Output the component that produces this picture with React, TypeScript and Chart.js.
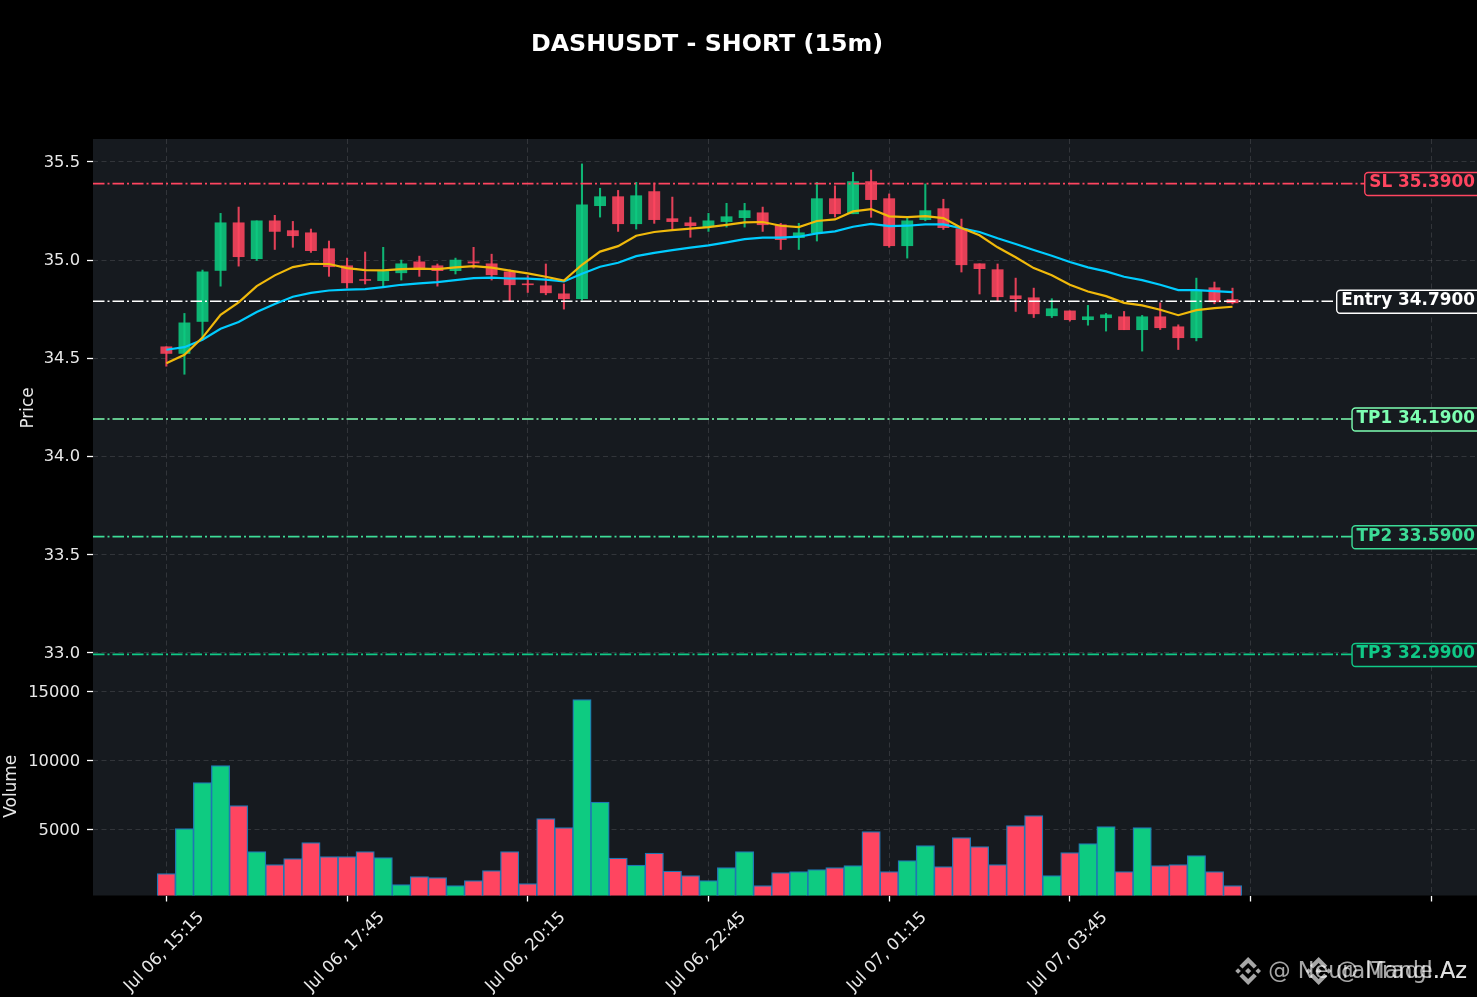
import React, { useEffect, useRef } from "react";
import { Chart, registerables } from "chart.js";

Chart.register(...registerables);

const FONT = "'DejaVu Sans'";
const titleText = "DASHUSDT - SHORT (15m)";
const watermarks = ["@ NeuralTrade.Az", "@ Mangl.Az"];

const xTickValues = [0, 10, 20, 30, 40, 50, 60, 70];
const xTickLabels = ["Jul 06, 15:15", "Jul 06, 17:45", "Jul 06, 20:15", "Jul 06, 22:45", "Jul 07, 01:15", "Jul 07, 03:45", "", ""];
const priceTicks = [33, 33.5, 34, 34.5, 35, 35.5];
const volumeTicks = [5000, 10000, 15000];

const candleOpen = [34.558, 34.524, 34.687, 34.947, 35.19, 35.007, 35.2, 35.15, 35.139, 35.058, 34.971, 34.901, 34.895, 34.935, 34.991, 34.971, 34.946, 34.991, 34.981, 34.94, 34.879, 34.869, 34.828, 34.803, 35.277, 35.323, 35.185, 35.349, 35.211, 35.19, 35.17, 35.196, 35.216, 35.241, 35.18, 35.114, 35.139, 35.313, 35.236, 35.4, 35.313, 35.073, 35.206, 35.262, 35.16, 34.981, 34.951, 34.818, 34.808, 34.716, 34.741, 34.696, 34.706, 34.711, 34.645, 34.711, 34.66, 34.604, 34.859, 34.799];
const candleClose = [34.524, 34.68, 34.94, 35.19, 35.017, 35.2, 35.146, 35.124, 35.048, 34.966, 34.884, 34.896, 34.942, 34.981, 34.961, 34.946, 35.0, 34.985, 34.925, 34.874, 34.874, 34.833, 34.803, 35.282, 35.323, 35.185, 35.328, 35.206, 35.196, 35.175, 35.2, 35.221, 35.252, 35.18, 35.104, 35.139, 35.313, 35.236, 35.4, 35.308, 35.073, 35.2, 35.252, 35.165, 34.976, 34.956, 34.813, 34.803, 34.726, 34.752, 34.696, 34.711, 34.721, 34.645, 34.711, 34.655, 34.604, 34.844, 34.787, 34.782];
const candleHigh = [34.558, 34.728, 34.949, 35.238, 35.27, 35.2, 35.228, 35.197, 35.158, 35.097, 35.01, 35.041, 35.065, 35.0, 35.02, 34.98, 35.01, 35.065, 35.03, 34.95, 34.92, 34.98, 34.878, 35.49, 35.366, 35.355, 35.396, 35.393, 35.321, 35.219, 35.238, 35.289, 35.289, 35.27, 35.187, 35.187, 35.396, 35.378, 35.447, 35.459, 35.337, 35.214, 35.388, 35.31, 35.209, 34.981, 34.98, 34.908, 34.857, 34.803, 34.741, 34.769, 34.728, 34.738, 34.718, 34.782, 34.67, 34.908, 34.888, 34.857];
const candleLow = [34.459, 34.418, 34.597, 34.867, 34.969, 34.998, 35.054, 35.065, 35.039, 34.917, 34.857, 34.878, 34.867, 34.898, 34.917, 34.867, 34.929, 34.959, 34.898, 34.793, 34.835, 34.823, 34.75, 34.796, 35.219, 35.146, 35.158, 35.187, 35.158, 35.116, 35.146, 35.168, 35.168, 35.146, 35.054, 35.054, 35.097, 35.219, 35.236, 35.218, 35.065, 35.01, 35.2, 35.156, 34.939, 34.827, 34.793, 34.738, 34.707, 34.707, 34.689, 34.668, 34.638, 34.645, 34.536, 34.646, 34.544, 34.588, 34.777, 34.776];
const volumes = [1812, 5072, 8406, 9638, 6739, 3406, 2464, 2899, 4058, 3043, 3043, 3406, 2971, 1014, 1594, 1522, 942, 1304, 2029, 3406, 1087, 5797, 5145, 14420, 6993, 2935, 2428, 3297, 1993, 1667, 1304, 2246, 3406, 942, 1884, 1957, 2101, 2246, 2391, 4855, 1957, 2754, 3841, 2319, 4420, 3768, 2464, 5290, 6014, 1667, 3333, 3986, 5217, 1957, 5145, 2391, 2464, 3116, 1957, 942];
const emaFast = [34.474, 34.517, 34.605, 34.721, 34.784, 34.867, 34.922, 34.964, 34.981, 34.98, 34.959, 34.949, 34.947, 34.954, 34.956, 34.954, 34.963, 34.969, 34.961, 34.946, 34.932, 34.915, 34.896, 34.976, 35.043, 35.071, 35.124, 35.143, 35.153, 35.16, 35.168, 35.179, 35.192, 35.194, 35.175, 35.168, 35.199, 35.207, 35.248, 35.26, 35.223, 35.219, 35.224, 35.214, 35.163, 35.126, 35.065, 35.014, 34.959, 34.923, 34.874, 34.84, 34.816, 34.782, 34.769, 34.747, 34.719, 34.745, 34.755, 34.762];
const emaSlow = [34.543, 34.556, 34.594, 34.65, 34.684, 34.735, 34.776, 34.813, 34.833, 34.845, 34.849, 34.852, 34.862, 34.874, 34.881, 34.888, 34.898, 34.908, 34.91, 34.906, 34.905, 34.9, 34.891, 34.93, 34.966, 34.986, 35.02, 35.037, 35.051, 35.063, 35.075, 35.09, 35.107, 35.114, 35.114, 35.119, 35.136, 35.146, 35.17, 35.184, 35.173, 35.175, 35.182, 35.182, 35.162, 35.143, 35.111, 35.082, 35.051, 35.022, 34.99, 34.963, 34.942, 34.915, 34.898, 34.874, 34.847, 34.847, 34.842, 34.837];

const levelNames = ["SL", "Entry", "TP1", "TP2", "TP3"];
const levelValues = [35.39, 34.79, 34.19, 33.59, 32.99];
const levelColors = ["#ff4560", "#ffffff", "#7dffb2", "#3ddc97", "#10c987"];

const X_MIN = -4.06, X_MAX = 72.53;
const RED = "#ff4560", GREEN = "#0ecb81";
const RED_A = "rgba(255,69,96,0.88)", GREEN_A = "rgba(14,203,129,0.88)";
const PANEL = "#161a1f";
const GRID = "rgba(255,255,255,0.12)";
const TICK_COLOR = "#ffffff";
const TEXT = "#e8e8e8";

const idx = candleOpen.map((_, i) => i);
const up = idx.map((i) => candleClose[i] >= candleOpen[i]);

function keepTicks(values: number[]) {
  return (scale: any) => {
    scale.ticks = values.map((value) => ({ value }));
  };
}

function logoPath(ctx: CanvasRenderingContext2D, cx: number, cy: number, s: number) {
  const diamond = (x: number, y: number, r: number) => {
    ctx.beginPath();
    ctx.moveTo(x, y - r); ctx.lineTo(x + r, y); ctx.lineTo(x, y + r); ctx.lineTo(x - r, y);
    ctx.closePath(); ctx.fill();
  };
  diamond(cx, cy, s * 0.22);
  diamond(cx - s * 0.72, cy, s * 0.2);
  diamond(cx + s * 0.72, cy, s * 0.2);
  const chevron = (d: number) => {
    ctx.beginPath();
    ctx.moveTo(cx, cy + d * s);
    ctx.lineTo(cx + s * 0.62, cy + d * s * 0.38);
    ctx.lineTo(cx + s * 0.4, cy + d * s * 0.18);
    ctx.lineTo(cx, cy + d * s * 0.58);
    ctx.lineTo(cx - s * 0.4, cy + d * s * 0.18);
    ctx.lineTo(cx - s * 0.62, cy + d * s * 0.38);
    ctx.closePath(); ctx.fill();
  };
  chevron(-1); chevron(1);
}

const panelPlugin = {
  id: "panel",
  beforeDraw(chart: any) {
    const { ctx, chartArea: a } = chart;
    ctx.save();
    ctx.fillStyle = "#000";
    ctx.fillRect(0, 0, chart.width, chart.height);
    ctx.fillStyle = PANEL;
    ctx.fillRect(a.left, a.top, a.right - a.left, a.bottom - a.top);
    ctx.restore();
    const sx = chart.scales.x;
    sx.getLabelItems().forEach((item: any, i: number) => {
      item.options.textAlign = "center";
      item.options.textBaseline = "middle";
      item.options.translation = [sx.getPixelForValue(sx.ticks[i].value) - 2, 952];
      item.textOffset = 0;
    });
    [chart.scales.price, chart.scales.volume].forEach((s: any) => {
      s.getLabelItems().forEach((item: any) => {
        item.options.translation = [item.options.translation[0], item.options.translation[1] + 1];
      });
    });
  },
};

const overlayPlugin = {
  id: "overlay",
  afterDraw(chart: any) {
    const { ctx } = chart;
    const y = chart.scales.price;
    ctx.save();
    ctx.textBaseline = "middle";
    ctx.fillStyle = "#ffffff";
    ctx.textAlign = "center";
    ctx.font = `bold 23.75px ${FONT}`;
    ctx.fillText(titleText, 707, 45);

    ctx.font = `bold 16.9px ${FONT}`;
    ctx.textAlign = "right";
    levelNames.forEach((name, i) => {
      const label = `${name} ${levelValues[i].toFixed(4)}`;
      const py = y.getPixelForValue(levelValues[i]);
      const w = ctx.measureText(label).width;
      const x0 = 1475 - w - 4.5;
      ctx.beginPath();
      ctx.roundRect(x0, py - 11, 1480 - x0, 23, 3.5);
      ctx.fillStyle = PANEL;
      ctx.fill();
      ctx.strokeStyle = levelColors[i];
      ctx.lineWidth = 1.4;
      ctx.stroke();
      ctx.fillStyle = levelColors[i];
      ctx.fillText(label, 1475, py - 0.5);
    });

    ctx.fillStyle = "rgba(255,255,255,0.65)";
    ctx.font = `22.4px ${FONT}`;
    ctx.textAlign = "right";
    watermarks.forEach((m) => ctx.fillText(m, 1467, 972));
    const w0 = ctx.measureText(watermarks[0]).width;
    const w1 = ctx.measureText(watermarks[1]).width;
    logoPath(ctx, 1467 - w0 - 20, 971, 14);
    logoPath(ctx, 1467 - w1 - 17, 971, 14);
    ctx.restore();
  },
};

export default function App() {
  const ref = useRef<HTMLCanvasElement>(null);
  useEffect(() => {
    document.body.style.margin = "0";
    document.body.style.background = "#000";
    const yBase = (extra: any) => ({
      type: "linear",
      position: "left",
      stack: "panes",
      afterFit: (s: any) => { s.width = 93; },
      grid: { color: GRID, tickColor: TICK_COLOR, tickLength: 6, tickWidth: 1.3, lineWidth: 1, drawOnChartArea: true },
      border: { display: false, dash: [5, 3.5] },
      ...extra,
    });
    const chart = new Chart(ref.current as HTMLCanvasElement, {
      type: "bar",
      data: {
        datasets: [
          ...levelValues.map((v, i) => ({
            type: "line" as const,
            order: 2,
            xAxisID: "x",
            yAxisID: "price",
            data: [{ x: X_MIN, y: v }, { x: X_MAX, y: v }],
            borderColor: levelColors[i],
            borderWidth: 1.7,
            borderDash: [11.5, 3, 2, 3],
            pointRadius: 0,
          })),
          {
            type: "line" as const,
            order: 1,
            xAxisID: "x",
            yAxisID: "price",
            data: idx.map((i) => ({ x: i, y: emaSlow[i] })),
            borderColor: "#00ccff",
            borderWidth: 2.2,
            pointRadius: 0,
            tension: 0,
          },
          {
            type: "line" as const,
            order: 0,
            xAxisID: "x",
            yAxisID: "price",
            data: idx.map((i) => ({ x: i, y: emaFast[i] })),
            borderColor: "#f0b90b",
            borderWidth: 2.2,
            pointRadius: 0,
            tension: 0,
          },
          {
            order: 3,
            xAxisID: "x",
            yAxisID: "price",
            grouped: false,
            barThickness: 11.2,
            data: idx.map((i) => ({ x: i, y: [candleOpen[i], candleClose[i]] })),
            backgroundColor: up.map((u) => (u ? GREEN_A : RED_A)),
            borderWidth: 0,
          },
          {
            order: 4,
            xAxisID: "x",
            yAxisID: "price",
            grouped: false,
            barThickness: 1.4,
            data: idx.map((i) => ({ x: i, y: [candleLow[i], candleHigh[i]] })),
            backgroundColor: up.map((u) => (u ? GREEN_A : RED_A)),
            borderWidth: 0,
          },
          {
            order: 5,
            xAxisID: "x",
            yAxisID: "volume",
            grouped: false,
            barThickness: 18.4,
            data: idx.map((i) => ({ x: i, y: volumes[i] })),
            backgroundColor: up.map((u) => (u ? GREEN : RED)),
            borderColor: "#1f77b4",
            borderWidth: 1.3,
            borderSkipped: false,
          },
        ],
      } as any,
      options: {
        responsive: false,
        animation: false,
        devicePixelRatio: 1,
        layout: { padding: { top: 139, left: 0, right: 0, bottom: 0 } },
        plugins: { legend: { display: false }, tooltip: { enabled: false }, title: { display: false } },
        scales: {
          x: {
            type: "linear",
            position: "bottom",
            offset: false,
            min: X_MIN,
            max: X_MAX,
            afterBuildTicks: keepTicks(xTickValues),
            afterFit: (s: any) => { s.height = 101.5; },
            ticks: {
              autoSkip: false,
              minRotation: 45,
              maxRotation: 45,
              color: TEXT,
              font: { family: FONT, size: 16.6 },
              callback: (v: any) => xTickLabels[xTickValues.indexOf(v)] ?? "",
            },
            grid: { offset: false, color: GRID, tickColor: TICK_COLOR, tickLength: 6, tickWidth: 1.3, lineWidth: 1 },
            border: { display: false, dash: [5, 3.5] },
          },
          volume: yBase({
            min: 217,
            max: 16051,
            stackWeight: 218.5,
            afterBuildTicks: keepTicks(volumeTicks),
            ticks: { color: TEXT, padding: 7, font: { family: FONT, size: 16.3 }, callback: (v: any) => String(v) },
            title: { display: true, text: "Volume", color: TEXT, font: { family: FONT, size: 16.9 }, padding: { top: 1, bottom: 0 } },
          }),
          price: yBase({
            min: 32.875,
            max: 35.617,
            stackWeight: 538,
            afterBuildTicks: keepTicks(priceTicks),
            ticks: { color: TEXT, padding: 7, font: { family: FONT, size: 16.3 }, callback: (v: any) => Number(v).toFixed(1) },
            title: { display: true, text: "Price", color: TEXT, font: { family: FONT, size: 16.9 }, padding: { top: 18, bottom: 0 } },
          }),
        },
      } as any,
      plugins: [panelPlugin, overlayPlugin],
    } as any);
    return () => chart.destroy();
  }, []);
  return (
    <canvas
      ref={ref}
      width={1477}
      height={997}
      style={{ position: "fixed", left: 0, top: 0, width: 1477, height: 997, display: "block" }}
    />
  );
}
